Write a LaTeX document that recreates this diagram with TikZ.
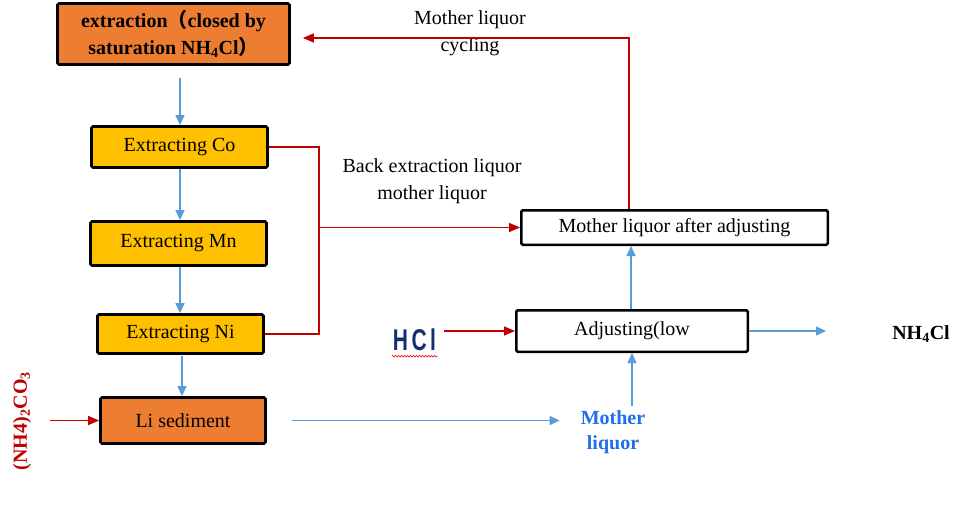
\documentclass[tikz,border=0pt]{standalone}
\usepackage{fontspec}
\setmainfont{Liberation Serif}
\newfontfamily\cjk{Noto Sans CJK SC}
\newfontfamily\hclfont{Liberation Sans}
\usetikzlibrary{arrows.meta,decorations.pathmorphing}
\definecolor{boxorange}{HTML}{ED7D31}
\definecolor{boxgold}{HTML}{FFC000}
\definecolor{arrowred}{HTML}{C00000}
\definecolor{arrowblue}{HTML}{5B9BD5}
\definecolor{textblue}{HTML}{1F6FE8}
\definecolor{hclnavy}{HTML}{142F6E}
\begin{document}
\begin{tikzpicture}[x=1pt,y=-1pt,
  txt/.style={font=\fontsize{20}{26.5}\selectfont, align=center, inner sep=0pt},
  proc/.style={txt, draw=black, line width=2.8pt, rounded corners=1.5pt},
  obox/.style={proc, fill=boxorange},
  gbox/.style={proc, fill=boxgold},
  wbox/.style={txt, draw=black, line width=2.5pt, fill=white, rounded corners=1.5pt},
  bluearr/.style={draw=arrowblue, line width=1.3pt, -{Triangle[length=10pt,width=9pt]}},
  redarr/.style={draw=arrowred, line width=1.5pt, -{Triangle[length=11pt,width=9pt]}},
  redline/.style={draw=arrowred, line width=1.5pt}
]
\useasboundingbox (0,0) rectangle (957,527);

% process boxes
\node[obox, minimum width=232pt, minimum height=61pt, font=\fontsize{20}{27}\selectfont\bfseries] (box1) at (173.5,34)
  {extraction{\cjk （}closed by\\saturation NH\textsubscript{4}Cl{\cjk ）}};
\node[gbox, minimum width=176pt, minimum height=41pt] (co) at (179.5,147) {Extracting Co};
\node[gbox, minimum width=176pt, minimum height=44pt] (mn) at (178.5,243.5) {Extracting Mn};
\node[gbox, minimum width=166pt, minimum height=39pt] (ni) at (180.5,334) {Extracting Ni};
\node[obox, minimum width=165pt, minimum height=46pt] (li) at (183,420.5) {Li sediment};

\node[wbox, minimum width=306.5pt, minimum height=34.5pt] (mla) at (674.5,227.5) {Mother liquor after adjusting};
\node[wbox, minimum width=231.5pt, minimum height=41.5pt] (adj) at (632,331) {Adjusting(low};

% labels
\node[txt] (cyc) at (470,33) {Mother liquor\\cycling};
\node[txt] (back) at (432,181) {Back extraction liquor\\mother liquor};
\node[txt, font=\fontsize{20}{25}\selectfont\bfseries, text=textblue] (ml) at (613,432) {Mother\\liquor};
\node[txt, font=\fontsize{20}{25}\selectfont\bfseries] (nh4cl) at (921,334) {NH\textsubscript{4}Cl};
\node[txt, rotate=90, font=\fontsize{20}{25}\selectfont\bfseries, text=arrowred] (carb) at (22,421) {(NH4)\textsubscript{2}CO\textsubscript{3}};
\node[inner sep=0pt, text=hclnavy, font=\hclfont\bfseries\fontsize{30}{30}\selectfont] (hcl) at (414.5,340)
  {\scalebox{0.7}[1]{H\hspace{5pt}C\hspace{5pt}l}};
\draw[draw=red, line width=0.6pt, decorate, decoration={snake, amplitude=0.9pt, segment length=3pt}]
  ([yshift=-5pt,xshift=-1pt]hcl.south west) -- ([yshift=-5pt,xshift=1pt]hcl.south east);

% coordinates
\coordinate (jt) at (319,147);
\coordinate (src) at (50,418);
\coordinate (nhend) at (826,331);
\coordinate (top) at (629,38);
\coordinate (chain) at (180,0);

% blue vertical chain
\draw[bluearr, shorten <=12pt] (box1.south -| chain) -- (co.north -| chain);
\draw[bluearr] (co.south -| chain) -- (mn.north -| chain);
\draw[bluearr] (mn.south -| chain) -- (ni.north -| chain);
\draw[bluearr, shorten <=1.5pt] ([xshift=1.5pt]ni.south) -- ([xshift=1.5pt]ni.south |- li.north);

% red back-extraction collector
\draw[redline] (co.east) -- (co.east -| jt) -- (ni.east -| jt) -- (ni.east);
\draw[redarr] (jt |- mla.west) -- (mla.west);

% mother liquor cycling
\draw[redarr, shorten >=12pt] (top |- mla.north) -- (top) -- (top -| box1.east);

% right side flows
\draw[bluearr] ([xshift=2pt]adj.north -| top) -- ([xshift=2pt]mla.south -| top);
\draw[redarr, shorten <=8pt] (hcl.east |- adj.west) -- (adj.west);
\draw[bluearr] (adj.east) -- (nhend);
\draw[redarr] (src |- li.west) -- (li.west);
\draw[bluearr, shorten <=25pt, shorten >=21pt] (li.east) -- (ml.west |- li.east);
\draw[bluearr, shorten <=4pt] (adj.south |- ml.north) -- (adj.south);
\end{tikzpicture}
\end{document}
